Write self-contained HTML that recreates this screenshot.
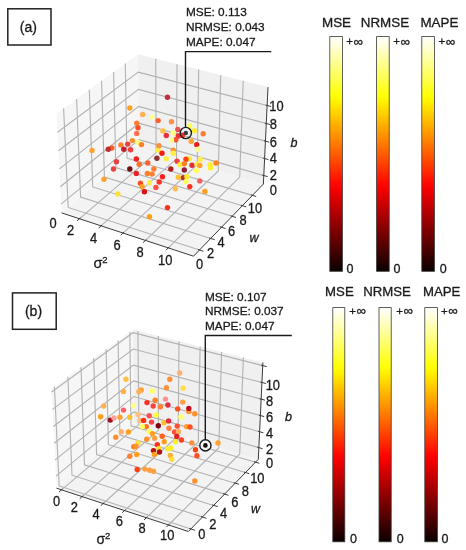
<!DOCTYPE html>
<html><head><meta charset="utf-8"><title>figure</title>
<style>html,body{margin:0;padding:0;background:#fff}svg{display:block;filter:blur(0.4px)}text{font-family:"Liberation Sans",Arial,sans-serif;stroke:#1a1a1a;stroke-width:.3px}</style></head>
<body>
<svg width="466" height="550" viewBox="0 0 466 550" font-family="Liberation Sans, Arial, sans-serif"><defs><linearGradient id="hot" x1="0" y1="0" x2="0" y2="1"><stop offset="0.0000" stop-color="#ffffff"/><stop offset="0.0312" stop-color="#ffffe3"/><stop offset="0.0625" stop-color="#ffffc4"/><stop offset="0.0938" stop-color="#ffffa4"/><stop offset="0.1250" stop-color="#ffff85"/><stop offset="0.1562" stop-color="#ffff65"/><stop offset="0.1875" stop-color="#ffff46"/><stop offset="0.2188" stop-color="#ffff26"/><stop offset="0.2500" stop-color="#ffff07"/><stop offset="0.2812" stop-color="#ffef00"/><stop offset="0.3125" stop-color="#ffda00"/><stop offset="0.3438" stop-color="#ffc500"/><stop offset="0.3750" stop-color="#ffb000"/><stop offset="0.4062" stop-color="#ff9b00"/><stop offset="0.4375" stop-color="#ff8600"/><stop offset="0.4688" stop-color="#ff7100"/><stop offset="0.5000" stop-color="#ff5c00"/><stop offset="0.5312" stop-color="#ff4700"/><stop offset="0.5625" stop-color="#ff3200"/><stop offset="0.5938" stop-color="#ff1d00"/><stop offset="0.6250" stop-color="#ff0800"/><stop offset="0.6562" stop-color="#f20000"/><stop offset="0.6875" stop-color="#dd0000"/><stop offset="0.7188" stop-color="#c80000"/><stop offset="0.7500" stop-color="#b30000"/><stop offset="0.7812" stop-color="#9e0000"/><stop offset="0.8125" stop-color="#890000"/><stop offset="0.8438" stop-color="#740000"/><stop offset="0.8750" stop-color="#5f0000"/><stop offset="0.9062" stop-color="#4a0000"/><stop offset="0.9375" stop-color="#350000"/><stop offset="0.9688" stop-color="#200000"/><stop offset="1.0000" stop-color="#0b0000"/></linearGradient></defs>
<g>
<polygon points="61.6,212.9 139.2,147.9 138.1,54.3 56.6,113.4" fill="#f6f6f6"/>
<polygon points="139.2,147.9 263.4,184.0 268.0,87.1 138.1,54.3" fill="#f0f0f0"/>
<polygon points="61.6,212.9 193.5,256.2 263.4,184.0 139.2,147.9" fill="#f3f3f3"/>
<polyline points="79.4,218.8 156.1,152.8 155.7,58.8" fill="none" stroke="#b2b2b2" stroke-width="1.1"/>
<polyline points="101.0,225.9 176.5,158.8 177.0,64.2" fill="none" stroke="#b2b2b2" stroke-width="1.1"/>
<polyline points="123.0,233.1 197.2,164.8 198.7,69.6" fill="none" stroke="#b2b2b2" stroke-width="1.1"/>
<polyline points="145.5,240.4 218.3,170.9 220.7,75.2" fill="none" stroke="#b2b2b2" stroke-width="1.1"/>
<polyline points="168.3,247.9 239.7,177.1 243.2,80.8" fill="none" stroke="#b2b2b2" stroke-width="1.1"/>
<polyline points="199.5,250.0 68.2,207.4 63.6,108.3" fill="none" stroke="#b2b2b2" stroke-width="1.1"/>
<polyline points="210.7,238.5 80.6,197.0 76.6,98.9" fill="none" stroke="#b2b2b2" stroke-width="1.1"/>
<polyline points="221.6,227.2 92.7,186.9 89.3,89.7" fill="none" stroke="#b2b2b2" stroke-width="1.1"/>
<polyline points="232.2,216.3 104.4,177.1 101.6,80.8" fill="none" stroke="#b2b2b2" stroke-width="1.1"/>
<polyline points="242.4,205.7 115.8,167.5 113.6,72.1" fill="none" stroke="#b2b2b2" stroke-width="1.1"/>
<polyline points="252.4,195.4 127.0,158.2 125.3,63.6" fill="none" stroke="#b2b2b2" stroke-width="1.1"/>
<polyline points="61.1,204.2 139.1,139.7 263.8,175.6" fill="none" stroke="#b2b2b2" stroke-width="1.1"/>
<polyline points="60.3,186.7 138.9,123.2 264.6,158.5" fill="none" stroke="#b2b2b2" stroke-width="1.1"/>
<polyline points="59.4,168.9 138.7,106.4 265.4,141.1" fill="none" stroke="#b2b2b2" stroke-width="1.1"/>
<polyline points="58.5,150.8 138.5,89.4 266.3,123.5" fill="none" stroke="#b2b2b2" stroke-width="1.1"/>
<polyline points="57.5,132.3 138.3,72.1 267.1,105.5" fill="none" stroke="#b2b2b2" stroke-width="1.1"/>
<line x1="61.6" y1="212.9" x2="193.5" y2="256.2" stroke="#3a3a3a" stroke-width="1.0"/>
<line x1="193.5" y1="256.2" x2="263.4" y2="184.0" stroke="#3a3a3a" stroke-width="1.0"/>
<line x1="263.4" y1="184.0" x2="268.0" y2="87.1" stroke="#3a3a3a" stroke-width="1.0"/>
<line x1="80.4" y1="217.9" x2="77.0" y2="220.9" stroke="#3a3a3a" stroke-width="1.0"/>
<line x1="102.0" y1="225.0" x2="98.7" y2="228.0" stroke="#3a3a3a" stroke-width="1.0"/>
<line x1="124.0" y1="232.2" x2="120.7" y2="235.2" stroke="#3a3a3a" stroke-width="1.0"/>
<line x1="146.4" y1="239.6" x2="143.1" y2="242.6" stroke="#3a3a3a" stroke-width="1.0"/>
<line x1="169.2" y1="247.0" x2="166.0" y2="250.2" stroke="#3a3a3a" stroke-width="1.0"/>
<line x1="197.9" y1="249.5" x2="203.5" y2="251.3" stroke="#3a3a3a" stroke-width="1.0"/>
<line x1="209.1" y1="238.0" x2="214.7" y2="239.7" stroke="#3a3a3a" stroke-width="1.0"/>
<line x1="220.0" y1="226.8" x2="225.5" y2="228.5" stroke="#3a3a3a" stroke-width="1.0"/>
<line x1="230.6" y1="215.8" x2="236.0" y2="217.5" stroke="#3a3a3a" stroke-width="1.0"/>
<line x1="240.9" y1="205.2" x2="246.3" y2="206.9" stroke="#3a3a3a" stroke-width="1.0"/>
<line x1="250.9" y1="194.9" x2="256.2" y2="196.5" stroke="#3a3a3a" stroke-width="1.0"/>
<line x1="262.3" y1="175.1" x2="267.6" y2="176.6" stroke="#3a3a3a" stroke-width="1.0"/>
<line x1="263.1" y1="158.1" x2="268.4" y2="159.6" stroke="#3a3a3a" stroke-width="1.0"/>
<line x1="263.9" y1="140.7" x2="269.3" y2="142.2" stroke="#3a3a3a" stroke-width="1.0"/>
<line x1="264.7" y1="123.1" x2="270.2" y2="124.5" stroke="#3a3a3a" stroke-width="1.0"/>
<line x1="265.6" y1="105.1" x2="271.1" y2="106.5" stroke="#3a3a3a" stroke-width="1.0"/>
</g>
<g>
<polygon points="56.5,488.2 134.1,423.2 133.0,329.6 51.5,388.7" fill="#f6f6f6"/>
<polygon points="134.1,423.2 258.3,459.3 262.9,362.4 133.0,329.6" fill="#f0f0f0"/>
<polygon points="56.5,488.2 188.4,531.5 258.3,459.3 134.1,423.2" fill="#f3f3f3"/>
<polyline points="61.5,489.9 138.9,424.6 137.9,330.9" fill="none" stroke="#b2b2b2" stroke-width="1.1"/>
<polyline points="82.2,496.6 158.4,430.3 158.3,336.0" fill="none" stroke="#b2b2b2" stroke-width="1.1"/>
<polyline points="103.2,503.5 178.2,436.0 179.0,341.3" fill="none" stroke="#b2b2b2" stroke-width="1.1"/>
<polyline points="124.6,510.6 198.3,441.9 200.1,346.6" fill="none" stroke="#b2b2b2" stroke-width="1.1"/>
<polyline points="146.4,517.7 218.8,447.9 221.6,352.0" fill="none" stroke="#b2b2b2" stroke-width="1.1"/>
<polyline points="168.5,525.0 239.7,453.9 243.4,357.5" fill="none" stroke="#b2b2b2" stroke-width="1.1"/>
<polyline points="190.9,529.0 59.2,485.9 54.4,386.6" fill="none" stroke="#b2b2b2" stroke-width="1.1"/>
<polyline points="202.5,517.0 72.0,475.2 67.9,376.8" fill="none" stroke="#b2b2b2" stroke-width="1.1"/>
<polyline points="213.7,505.4 84.5,464.8 81.0,367.3" fill="none" stroke="#b2b2b2" stroke-width="1.1"/>
<polyline points="224.6,494.1 96.6,454.6 93.7,358.1" fill="none" stroke="#b2b2b2" stroke-width="1.1"/>
<polyline points="235.2,483.2 108.4,444.7 106.1,349.2" fill="none" stroke="#b2b2b2" stroke-width="1.1"/>
<polyline points="245.5,472.5 119.9,435.1 118.1,340.4" fill="none" stroke="#b2b2b2" stroke-width="1.1"/>
<polyline points="255.5,462.2 131.0,425.8 129.8,332.0" fill="none" stroke="#b2b2b2" stroke-width="1.1"/>
<polyline points="51.6,392.0 133.0,332.7 262.8,365.6" fill="none" stroke="#b2b2b2" stroke-width="1.1"/>
<polyline points="52.5,409.4 133.2,349.0 262.0,382.5" fill="none" stroke="#b2b2b2" stroke-width="1.1"/>
<polyline points="53.4,426.5 133.4,365.1 261.2,399.1" fill="none" stroke="#b2b2b2" stroke-width="1.1"/>
<polyline points="54.2,443.3 133.6,380.9 260.4,415.5" fill="none" stroke="#b2b2b2" stroke-width="1.1"/>
<polyline points="55.1,459.9 133.8,396.5 259.6,431.7" fill="none" stroke="#b2b2b2" stroke-width="1.1"/>
<polyline points="55.9,476.2 134.0,411.9 258.9,447.6" fill="none" stroke="#b2b2b2" stroke-width="1.1"/>
<line x1="56.5" y1="488.2" x2="188.4" y2="531.5" stroke="#3a3a3a" stroke-width="1.0"/>
<line x1="188.4" y1="531.5" x2="258.3" y2="459.3" stroke="#3a3a3a" stroke-width="1.0"/>
<line x1="258.3" y1="459.3" x2="262.9" y2="362.4" stroke="#3a3a3a" stroke-width="1.0"/>
<line x1="62.5" y1="489.0" x2="59.1" y2="491.9" stroke="#3a3a3a" stroke-width="1.0"/>
<line x1="83.1" y1="495.8" x2="79.7" y2="498.7" stroke="#3a3a3a" stroke-width="1.0"/>
<line x1="104.1" y1="502.7" x2="100.8" y2="505.7" stroke="#3a3a3a" stroke-width="1.0"/>
<line x1="125.5" y1="509.7" x2="122.2" y2="512.7" stroke="#3a3a3a" stroke-width="1.0"/>
<line x1="147.3" y1="516.8" x2="144.1" y2="519.9" stroke="#3a3a3a" stroke-width="1.0"/>
<line x1="169.4" y1="524.1" x2="166.3" y2="527.2" stroke="#3a3a3a" stroke-width="1.0"/>
<line x1="189.3" y1="528.4" x2="194.9" y2="530.3" stroke="#3a3a3a" stroke-width="1.0"/>
<line x1="200.9" y1="516.5" x2="206.5" y2="518.3" stroke="#3a3a3a" stroke-width="1.0"/>
<line x1="212.2" y1="504.9" x2="217.7" y2="506.6" stroke="#3a3a3a" stroke-width="1.0"/>
<line x1="223.1" y1="493.6" x2="228.5" y2="495.3" stroke="#3a3a3a" stroke-width="1.0"/>
<line x1="233.7" y1="482.7" x2="239.1" y2="484.3" stroke="#3a3a3a" stroke-width="1.0"/>
<line x1="244.0" y1="472.1" x2="249.3" y2="473.7" stroke="#3a3a3a" stroke-width="1.0"/>
<line x1="254.0" y1="461.7" x2="259.3" y2="463.3" stroke="#3a3a3a" stroke-width="1.0"/>
<line x1="261.2" y1="365.2" x2="266.7" y2="366.6" stroke="#3a3a3a" stroke-width="1.0"/>
<line x1="260.4" y1="382.1" x2="265.9" y2="383.5" stroke="#3a3a3a" stroke-width="1.0"/>
<line x1="259.6" y1="398.7" x2="265.0" y2="400.2" stroke="#3a3a3a" stroke-width="1.0"/>
<line x1="258.8" y1="415.1" x2="264.2" y2="416.6" stroke="#3a3a3a" stroke-width="1.0"/>
<line x1="258.1" y1="431.3" x2="263.4" y2="432.8" stroke="#3a3a3a" stroke-width="1.0"/>
<line x1="257.3" y1="447.2" x2="262.6" y2="448.7" stroke="#3a3a3a" stroke-width="1.0"/>
</g>
<g>
<circle cx="129.8" cy="108.0" r="2.7" fill="#ffa020"/>
<circle cx="142.7" cy="114.5" r="2.7" fill="#ffb050"/>
<circle cx="151.8" cy="117.1" r="2.7" fill="#ffff90"/>
<circle cx="158.1" cy="120.6" r="2.7" fill="#ff6030"/>
<circle cx="136.7" cy="123.1" r="2.7" fill="#ff8030"/>
<circle cx="138.0" cy="127.8" r="2.7" fill="#ff5028"/>
<circle cx="136.7" cy="133.4" r="2.7" fill="#ff7050"/>
<circle cx="132.4" cy="140.6" r="2.7" fill="#ff9030"/>
<circle cx="138.0" cy="142.4" r="2.7" fill="#ffff80"/>
<circle cx="141.5" cy="144.6" r="2.7" fill="#ff8020"/>
<circle cx="127.7" cy="144.1" r="2.7" fill="#f04040"/>
<circle cx="120.9" cy="144.9" r="2.7" fill="#ff8030"/>
<circle cx="123.8" cy="149.2" r="2.7" fill="#c02030"/>
<circle cx="130.6" cy="149.7" r="2.7" fill="#f04040"/>
<circle cx="111.8" cy="148.0" r="2.7" fill="#ff6020"/>
<circle cx="108.3" cy="149.2" r="2.7" fill="#c03030"/>
<circle cx="92.0" cy="150.4" r="2.7" fill="#ffa030"/>
<circle cx="136.3" cy="159.0" r="2.7" fill="#f02020"/>
<circle cx="116.4" cy="161.8" r="2.7" fill="#e84040"/>
<circle cx="139.2" cy="164.2" r="2.7" fill="#ff7020"/>
<circle cx="147.8" cy="163.0" r="2.7" fill="#ff6030"/>
<circle cx="156.9" cy="158.3" r="2.7" fill="#903030"/>
<circle cx="158.1" cy="150.1" r="2.7" fill="#ffee40"/>
<circle cx="159.0" cy="145.8" r="2.7" fill="#ff9040"/>
<circle cx="129.8" cy="169.0" r="2.7" fill="#701010"/>
<circle cx="113.5" cy="169.0" r="2.7" fill="#f04040"/>
<circle cx="153.8" cy="169.0" r="2.7" fill="#ff8030"/>
<circle cx="167.5" cy="97.2" r="2.7" fill="#c03040"/>
<circle cx="171.5" cy="121.8" r="2.7" fill="#ff9050"/>
<circle cx="189.8" cy="126.0" r="2.7" fill="#ffff50"/>
<circle cx="194.3" cy="130.7" r="2.7" fill="#ffee30"/>
<circle cx="203.2" cy="133.8" r="2.7" fill="#ff8030"/>
<circle cx="177.8" cy="129.5" r="2.7" fill="#f05050"/>
<circle cx="162.9" cy="130.9" r="2.7" fill="#ffc040"/>
<circle cx="173.2" cy="132.9" r="2.7" fill="#ffff80"/>
<circle cx="166.3" cy="135.5" r="2.7" fill="#e83040"/>
<circle cx="178.3" cy="136.0" r="2.7" fill="#f03030"/>
<circle cx="182.4" cy="135.2" r="2.7" fill="#f03030"/>
<circle cx="175.8" cy="139.8" r="2.7" fill="#ff5030"/>
<circle cx="171.5" cy="140.1" r="2.7" fill="#ffff90"/>
<circle cx="191.2" cy="141.2" r="2.7" fill="#ffa030"/>
<circle cx="196.7" cy="144.6" r="2.7" fill="#e02020"/>
<circle cx="198.0" cy="149.2" r="2.7" fill="#ffff90"/>
<circle cx="173.2" cy="150.1" r="2.7" fill="#ff9030"/>
<circle cx="173.2" cy="153.2" r="2.7" fill="#ffee40"/>
<circle cx="162.0" cy="153.2" r="2.7" fill="#f02010"/>
<circle cx="166.3" cy="158.7" r="2.7" fill="#ffee40"/>
<circle cx="189.5" cy="158.7" r="2.7" fill="#ffee40"/>
<circle cx="186.0" cy="159.2" r="2.7" fill="#ff4010"/>
<circle cx="200.6" cy="159.5" r="2.7" fill="#ffee50"/>
<circle cx="177.1" cy="161.2" r="2.7" fill="#f04040"/>
<circle cx="180.0" cy="164.7" r="2.7" fill="#ffee40"/>
<circle cx="184.3" cy="163.8" r="2.7" fill="#ff8020"/>
<circle cx="192.0" cy="165.2" r="2.7" fill="#e03030"/>
<circle cx="197.2" cy="164.2" r="2.7" fill="#ffee40"/>
<circle cx="199.8" cy="165.5" r="2.7" fill="#ffa030"/>
<circle cx="210.1" cy="164.7" r="2.7" fill="#ffee30"/>
<circle cx="216.1" cy="163.0" r="2.7" fill="#ff8020"/>
<circle cx="210.4" cy="167.9" r="2.7" fill="#ffee30"/>
<circle cx="170.8" cy="169.0" r="2.7" fill="#b02020"/>
<circle cx="184.3" cy="170.0" r="2.7" fill="#902030"/>
<circle cx="196.4" cy="170.6" r="2.7" fill="#ffff60"/>
<circle cx="136.3" cy="173.4" r="2.7" fill="#f02020"/>
<circle cx="147.3" cy="173.4" r="2.7" fill="#ff8030"/>
<circle cx="152.1" cy="174.1" r="2.7" fill="#ff8030"/>
<circle cx="104.0" cy="179.2" r="2.7" fill="#ffa030"/>
<circle cx="140.4" cy="183.2" r="2.7" fill="#ff5020"/>
<circle cx="149.5" cy="182.7" r="2.7" fill="#ffee40"/>
<circle cx="159.2" cy="182.0" r="2.7" fill="#ff3020"/>
<circle cx="142.1" cy="186.6" r="2.7" fill="#ffa020"/>
<circle cx="155.9" cy="187.5" r="2.7" fill="#ff5040"/>
<circle cx="144.4" cy="191.8" r="2.7" fill="#e01010"/>
<circle cx="117.8" cy="194.0" r="2.7" fill="#ffe030"/>
<circle cx="149.5" cy="216.7" r="2.7" fill="#ffa010"/>
<circle cx="162.4" cy="176.7" r="2.7" fill="#ff2020"/>
<circle cx="178.3" cy="177.2" r="2.7" fill="#ffc030"/>
<circle cx="183.5" cy="177.7" r="2.7" fill="#c03030"/>
<circle cx="186.9" cy="176.8" r="2.7" fill="#ffee30"/>
<circle cx="186.1" cy="181.5" r="2.7" fill="#ffff60"/>
<circle cx="199.8" cy="180.9" r="2.7" fill="#f06060"/>
<circle cx="189.8" cy="186.6" r="2.7" fill="#ff3020"/>
<circle cx="175.4" cy="188.8" r="2.7" fill="#ffc050"/>
<circle cx="204.9" cy="191.4" r="2.7" fill="#ffa020"/>
<circle cx="167.5" cy="207.6" r="2.7" fill="#ff3020"/>
</g>
<g>
<circle cx="126.0" cy="379.2" r="2.7" fill="#ffc040"/>
<circle cx="123.5" cy="391.4" r="2.7" fill="#ffb040"/>
<circle cx="141.2" cy="390.0" r="2.7" fill="#ffa030"/>
<circle cx="138.9" cy="391.8" r="2.7" fill="#ffb050"/>
<circle cx="152.1" cy="390.9" r="2.7" fill="#ffff60"/>
<circle cx="166.4" cy="387.8" r="2.7" fill="#ff9040"/>
<circle cx="169.8" cy="379.2" r="2.7" fill="#ff9030"/>
<circle cx="165.5" cy="399.1" r="2.7" fill="#ff9090"/>
<circle cx="155.2" cy="400.3" r="2.7" fill="#ff8020"/>
<circle cx="147.0" cy="402.6" r="2.7" fill="#ff3020"/>
<circle cx="153.2" cy="406.0" r="2.7" fill="#ff4040"/>
<circle cx="160.4" cy="406.7" r="2.7" fill="#ff8030"/>
<circle cx="167.9" cy="405.0" r="2.7" fill="#e03040"/>
<circle cx="133.3" cy="405.5" r="2.7" fill="#ffff90"/>
<circle cx="103.7" cy="406.0" r="2.7" fill="#ffb050"/>
<circle cx="123.5" cy="410.1" r="2.7" fill="#ff6060"/>
<circle cx="100.6" cy="416.7" r="2.7" fill="#ffa020"/>
<circle cx="110.3" cy="420.1" r="2.7" fill="#a01020"/>
<circle cx="114.0" cy="417.9" r="2.7" fill="#ffa090"/>
<circle cx="120.0" cy="417.2" r="2.7" fill="#ffa030"/>
<circle cx="129.8" cy="417.2" r="2.7" fill="#ffc030"/>
<circle cx="138.1" cy="414.6" r="2.7" fill="#ffc080"/>
<circle cx="149.2" cy="415.8" r="2.7" fill="#ff5050"/>
<circle cx="156.1" cy="414.9" r="2.7" fill="#ffff40"/>
<circle cx="139.8" cy="420.4" r="2.7" fill="#ffc080"/>
<circle cx="143.6" cy="420.4" r="2.7" fill="#ff3010"/>
<circle cx="151.5" cy="422.1" r="2.7" fill="#ff4040"/>
<circle cx="164.0" cy="422.7" r="2.7" fill="#ffc030"/>
<circle cx="168.6" cy="420.9" r="2.7" fill="#e03040"/>
<circle cx="158.3" cy="425.8" r="2.7" fill="#800010"/>
<circle cx="146.3" cy="426.6" r="2.7" fill="#ff7020"/>
<circle cx="142.4" cy="426.6" r="2.7" fill="#ffff60"/>
<circle cx="169.0" cy="428.3" r="2.7" fill="#ff8040"/>
<circle cx="121.2" cy="431.8" r="2.7" fill="#ffb070"/>
<circle cx="128.4" cy="431.9" r="2.7" fill="#ffa020"/>
<circle cx="149.2" cy="431.4" r="2.7" fill="#ffff60"/>
<circle cx="152.4" cy="433.6" r="2.7" fill="#ffa020"/>
<circle cx="115.8" cy="437.3" r="2.7" fill="#ff9030"/>
<circle cx="162.2" cy="436.3" r="2.7" fill="#ff6020"/>
<circle cx="154.6" cy="438.3" r="2.7" fill="#ffa040"/>
<circle cx="146.7" cy="439.2" r="2.7" fill="#ff9030"/>
<circle cx="179.7" cy="372.9" r="2.7" fill="#ffb070"/>
<circle cx="183.2" cy="388.3" r="2.7" fill="#ffe040"/>
<circle cx="182.7" cy="402.1" r="2.7" fill="#ffa040"/>
<circle cx="177.7" cy="408.9" r="2.7" fill="#ff5020"/>
<circle cx="188.8" cy="411.5" r="2.7" fill="#ff9030"/>
<circle cx="188.8" cy="408.4" r="2.7" fill="#c01020"/>
<circle cx="194.7" cy="413.7" r="2.7" fill="#ff9030"/>
<circle cx="180.9" cy="417.0" r="2.7" fill="#ffff70"/>
<circle cx="177.2" cy="426.1" r="2.7" fill="#ff5030"/>
<circle cx="186.6" cy="426.6" r="2.7" fill="#ffa030"/>
<circle cx="190.0" cy="427.0" r="2.7" fill="#ff5020"/>
<circle cx="174.6" cy="432.0" r="2.7" fill="#ff5030"/>
<circle cx="178.5" cy="431.8" r="2.7" fill="#ffb060"/>
<circle cx="176.8" cy="436.4" r="2.7" fill="#e02020"/>
<circle cx="181.5" cy="440.0" r="2.7" fill="#ff4020"/>
<circle cx="164.2" cy="441.7" r="2.7" fill="#ffa020"/>
<circle cx="138.1" cy="442.9" r="2.7" fill="#ffe040"/>
<circle cx="157.3" cy="444.6" r="2.7" fill="#ff3020"/>
<circle cx="133.8" cy="446.8" r="2.7" fill="#ff8020"/>
<circle cx="136.0" cy="446.3" r="2.7" fill="#ff9030"/>
<circle cx="159.0" cy="448.5" r="2.7" fill="#ffe020"/>
<circle cx="153.5" cy="450.6" r="2.7" fill="#c01010"/>
<circle cx="159.5" cy="452.0" r="2.7" fill="#b01010"/>
<circle cx="154.4" cy="454.4" r="2.7" fill="#ffa020"/>
<circle cx="136.7" cy="454.5" r="2.7" fill="#ffa020"/>
<circle cx="129.8" cy="456.3" r="2.7" fill="#ff8030"/>
<circle cx="137.2" cy="469.5" r="2.7" fill="#ff4010"/>
<circle cx="144.9" cy="469.1" r="2.7" fill="#ffa040"/>
<circle cx="149.7" cy="470.3" r="2.7" fill="#ffa040"/>
<circle cx="153.5" cy="471.2" r="2.7" fill="#ffa040"/>
<circle cx="175.5" cy="441.7" r="2.7" fill="#ffee30"/>
<circle cx="191.8" cy="442.9" r="2.7" fill="#ff9040"/>
<circle cx="218.0" cy="442.9" r="2.7" fill="#ffa030"/>
<circle cx="170.6" cy="448.0" r="2.7" fill="#ffee20"/>
<circle cx="167.7" cy="448.9" r="2.7" fill="#ffee30"/>
<circle cx="195.5" cy="449.7" r="2.7" fill="#ff4010"/>
<circle cx="170.3" cy="455.4" r="2.7" fill="#ffb030"/>
<circle cx="196.9" cy="455.8" r="2.7" fill="#ff5020"/>
<circle cx="171.7" cy="459.2" r="2.7" fill="#ffe030"/>
<circle cx="194.8" cy="481.0" r="2.7" fill="#ff9030"/>
</g>
<text transform="translate(53.2,228.4) scale(0.92,1)" font-size="14" text-anchor="middle" fill="#1a1a1a" >0</text>
<text transform="translate(70.6,235.3) scale(0.92,1)" font-size="14" text-anchor="middle" fill="#1a1a1a" >2</text>
<text transform="translate(93.7,243.0) scale(0.92,1)" font-size="14" text-anchor="middle" fill="#1a1a1a" >4</text>
<text transform="translate(117.0,250.4) scale(0.92,1)" font-size="14" text-anchor="middle" fill="#1a1a1a" >6</text>
<text transform="translate(140.0,257.4) scale(0.92,1)" font-size="14" text-anchor="middle" fill="#1a1a1a" >8</text>
<text transform="translate(165.2,265.0) scale(0.92,1)" font-size="14" text-anchor="middle" fill="#1a1a1a" >10</text>
<text transform="translate(199.5,268.6) scale(0.92,1)" font-size="14" text-anchor="middle" fill="#1a1a1a" >0</text>
<text transform="translate(210.5,258.0) scale(0.92,1)" font-size="14" text-anchor="middle" fill="#1a1a1a" >2</text>
<text transform="translate(221.0,246.8) scale(0.92,1)" font-size="14" text-anchor="middle" fill="#1a1a1a" >4</text>
<text transform="translate(231.5,236.0) scale(0.92,1)" font-size="14" text-anchor="middle" fill="#1a1a1a" >6</text>
<text transform="translate(243.0,224.6) scale(0.92,1)" font-size="14" text-anchor="middle" fill="#1a1a1a" >8</text>
<text transform="translate(254.9,213.2) scale(0.92,1)" font-size="14" text-anchor="middle" fill="#1a1a1a" >10</text>
<text transform="translate(273.3,195.0) scale(0.92,1)" font-size="14" text-anchor="middle" fill="#1a1a1a" >0</text>
<text transform="translate(273.3,180.0) scale(0.92,1)" font-size="14" text-anchor="middle" fill="#1a1a1a" >2</text>
<text transform="translate(273.3,163.0) scale(0.92,1)" font-size="14" text-anchor="middle" fill="#1a1a1a" >4</text>
<text transform="translate(273.3,146.5) scale(0.92,1)" font-size="14" text-anchor="middle" fill="#1a1a1a" >6</text>
<text transform="translate(273.3,128.5) scale(0.92,1)" font-size="14" text-anchor="middle" fill="#1a1a1a" >8</text>
<text transform="translate(276.5,111.2) scale(0.92,1)" font-size="14" text-anchor="middle" fill="#1a1a1a" >10</text>
<text transform="translate(93.4,267.6) scale(1.0,1)" font-size="14.5" text-anchor="start" fill="#1a1a1a" >σ<tspan font-size="9.5" dy="-4.7">2</tspan></text>
<text transform="translate(254.0,241.5) scale(1.0,1)" font-size="12.5" text-anchor="middle" fill="#1a1a1a" font-style="italic">w</text>
<text transform="translate(294.0,146.5) scale(1.0,1)" font-size="12.5" text-anchor="middle" fill="#1a1a1a" font-style="italic">b</text>
<text transform="translate(56.5,505.6) scale(0.92,1)" font-size="14" text-anchor="middle" fill="#1a1a1a" >0</text>
<text transform="translate(74.3,512.0) scale(0.92,1)" font-size="14" text-anchor="middle" fill="#1a1a1a" >2</text>
<text transform="translate(96.2,519.0) scale(0.92,1)" font-size="14" text-anchor="middle" fill="#1a1a1a" >4</text>
<text transform="translate(119.4,526.3) scale(0.92,1)" font-size="14" text-anchor="middle" fill="#1a1a1a" >6</text>
<text transform="translate(142.2,533.3) scale(0.92,1)" font-size="14" text-anchor="middle" fill="#1a1a1a" >8</text>
<text transform="translate(167.2,540.0) scale(0.92,1)" font-size="14" text-anchor="middle" fill="#1a1a1a" >10</text>
<text transform="translate(201.8,538.6) scale(0.92,1)" font-size="14" text-anchor="middle" fill="#1a1a1a" >0</text>
<text transform="translate(212.9,528.5) scale(0.92,1)" font-size="14" text-anchor="middle" fill="#1a1a1a" >2</text>
<text transform="translate(223.7,518.2) scale(0.92,1)" font-size="14" text-anchor="middle" fill="#1a1a1a" >4</text>
<text transform="translate(234.8,506.9) scale(0.92,1)" font-size="14" text-anchor="middle" fill="#1a1a1a" >6</text>
<text transform="translate(245.4,495.8) scale(0.92,1)" font-size="14" text-anchor="middle" fill="#1a1a1a" >8</text>
<text transform="translate(257.3,483.3) scale(0.92,1)" font-size="14" text-anchor="middle" fill="#1a1a1a" >10</text>
<text transform="translate(269.6,467.8) scale(0.92,1)" font-size="14" text-anchor="middle" fill="#1a1a1a" >0</text>
<text transform="translate(269.6,453.6) scale(0.92,1)" font-size="14" text-anchor="middle" fill="#1a1a1a" >2</text>
<text transform="translate(269.6,438.2) scale(0.92,1)" font-size="14" text-anchor="middle" fill="#1a1a1a" >4</text>
<text transform="translate(269.6,421.8) scale(0.92,1)" font-size="14" text-anchor="middle" fill="#1a1a1a" >6</text>
<text transform="translate(269.6,405.9) scale(0.92,1)" font-size="14" text-anchor="middle" fill="#1a1a1a" >8</text>
<text transform="translate(272.8,389.5) scale(0.92,1)" font-size="14" text-anchor="middle" fill="#1a1a1a" >10</text>
<text transform="translate(96.4,543.5) scale(1.0,1)" font-size="14" text-anchor="start" fill="#1a1a1a" >σ<tspan font-size="9.5" dy="-4.8">2</tspan></text>
<text transform="translate(255.5,512.5) scale(1.0,1)" font-size="12.5" text-anchor="middle" fill="#1a1a1a" font-style="italic">w</text>
<text transform="translate(288.5,421.0) scale(1.0,1)" font-size="12.5" text-anchor="middle" fill="#1a1a1a" font-style="italic">b</text>
<text transform="translate(186.0,16.3) scale(1.0,1)" font-size="11.8" text-anchor="start" fill="#1a1a1a" >MSE: 0.113</text>
<text transform="translate(186.0,31.0) scale(1.0,1)" font-size="11.8" text-anchor="start" fill="#1a1a1a" >NRMSE: 0.043</text>
<text transform="translate(186.0,45.7) scale(1.0,1)" font-size="11.8" text-anchor="start" fill="#1a1a1a" >MAPE: 0.047</text>
<polyline points="271.3,51.6 185.5,51.6 185.5,127.5" fill="none" stroke="#1a1a1a" stroke-width="1.4"/>
<circle cx="185.8" cy="133" r="5.6" fill="none" stroke="#1a1a1a" stroke-width="1.4"/>
<circle cx="185.8" cy="133" r="2.3" fill="#3a4040"/>
<text transform="translate(205.0,300.6) scale(1.0,1)" font-size="11.8" text-anchor="start" fill="#1a1a1a" >MSE: 0.107</text>
<text transform="translate(205.0,315.2) scale(1.0,1)" font-size="11.8" text-anchor="start" fill="#1a1a1a" >NRMSE: 0.037</text>
<text transform="translate(205.0,329.8) scale(1.0,1)" font-size="11.8" text-anchor="start" fill="#1a1a1a" >MAPE: 0.047</text>
<polyline points="291.8,335.5 205.3,335.5 205.3,440" fill="none" stroke="#1a1a1a" stroke-width="1.4"/>
<circle cx="205.4" cy="445.4" r="5.6" fill="#ffffff" fill-opacity="0.7" stroke="#1a1a1a" stroke-width="1.4"/>
<circle cx="205.4" cy="445.4" r="2.3" fill="#1a1010"/>
<rect x="7.8" y="8.8" width="43.2" height="36.2" fill="#fff" stroke="#222" stroke-width="1.5"/>
<text transform="translate(28.3,32.3) scale(1.0,1)" font-size="14" text-anchor="middle" fill="#1a1a1a" >(a)</text>
<rect x="12.5" y="292.9" width="43.7" height="36.4" fill="#fff" stroke="#222" stroke-width="1.5"/>
<text transform="translate(33.5,316.0) scale(1.0,1)" font-size="14" text-anchor="middle" fill="#1a1a1a" >(b)</text>
<rect x="329.8" y="36.6" width="12.6" height="234.7" fill="url(#hot)" stroke="#3a3a3a" stroke-width="0.8"/>
<text transform="translate(346.6,272.8) scale(1.0,1)" font-size="12.5" text-anchor="start" fill="#1a1a1a" >0</text>
<text transform="translate(346.2,45.2) scale(1.0,1)" font-size="11.5" text-anchor="start" fill="#1a1a1a" >+<tspan font-size="13" dx="0.8" dy="0.6">∞</tspan></text>
<rect x="376.6" y="36.6" width="12.6" height="234.7" fill="url(#hot)" stroke="#3a3a3a" stroke-width="0.8"/>
<text transform="translate(393.5,272.8) scale(1.0,1)" font-size="12.5" text-anchor="start" fill="#1a1a1a" >0</text>
<text transform="translate(393.2,45.2) scale(1.0,1)" font-size="11.5" text-anchor="start" fill="#1a1a1a" >+<tspan font-size="13" dx="0.8" dy="0.6">∞</tspan></text>
<rect x="421.8" y="36.6" width="12.6" height="234.7" fill="url(#hot)" stroke="#3a3a3a" stroke-width="0.8"/>
<text transform="translate(439.8,272.8) scale(1.0,1)" font-size="12.5" text-anchor="start" fill="#1a1a1a" >0</text>
<text transform="translate(438.5,45.2) scale(1.0,1)" font-size="11.5" text-anchor="start" fill="#1a1a1a" >+<tspan font-size="13" dx="0.8" dy="0.6">∞</tspan></text>
<rect x="332.8" y="307.6" width="12.0" height="234.2" fill="url(#hot)" stroke="#3a3a3a" stroke-width="0.8"/>
<text transform="translate(350.0,543.4) scale(1.0,1)" font-size="12.5" text-anchor="start" fill="#1a1a1a" >0</text>
<text transform="translate(349.2,314.8) scale(1.0,1)" font-size="11.5" text-anchor="start" fill="#1a1a1a" >+<tspan font-size="13" dx="0.8" dy="0.6">∞</tspan></text>
<rect x="379.0" y="307.6" width="12.2" height="234.2" fill="url(#hot)" stroke="#3a3a3a" stroke-width="0.8"/>
<text transform="translate(396.8,543.4) scale(1.0,1)" font-size="12.5" text-anchor="start" fill="#1a1a1a" >0</text>
<text transform="translate(396.2,314.8) scale(1.0,1)" font-size="11.5" text-anchor="start" fill="#1a1a1a" >+<tspan font-size="13" dx="0.8" dy="0.6">∞</tspan></text>
<rect x="424.8" y="307.6" width="12.6" height="234.2" fill="url(#hot)" stroke="#3a3a3a" stroke-width="0.8"/>
<text transform="translate(441.4,543.4) scale(1.0,1)" font-size="12.5" text-anchor="start" fill="#1a1a1a" >0</text>
<text transform="translate(441.0,314.8) scale(1.0,1)" font-size="11.5" text-anchor="start" fill="#1a1a1a" >+<tspan font-size="13" dx="0.8" dy="0.6">∞</tspan></text>
<text transform="translate(336.5,26.8) scale(1.0,1)" font-size="13.4" text-anchor="middle" fill="#1a1a1a" >MSE</text>
<text transform="translate(384.9,26.8) scale(1.0,1)" font-size="13.4" text-anchor="middle" fill="#1a1a1a" >NRMSE</text>
<text transform="translate(439.4,26.8) scale(1.0,1)" font-size="13.4" text-anchor="middle" fill="#1a1a1a" >MAPE</text>
<text transform="translate(339.4,295.7) scale(1.0,1)" font-size="13.2" text-anchor="middle" fill="#1a1a1a" >MSE</text>
<text transform="translate(387.0,295.7) scale(1.0,1)" font-size="13.2" text-anchor="middle" fill="#1a1a1a" >NRMSE</text>
<text transform="translate(441.6,295.7) scale(1.0,1)" font-size="13.2" text-anchor="middle" fill="#1a1a1a" >MAPE</text></svg>
</body></html>
